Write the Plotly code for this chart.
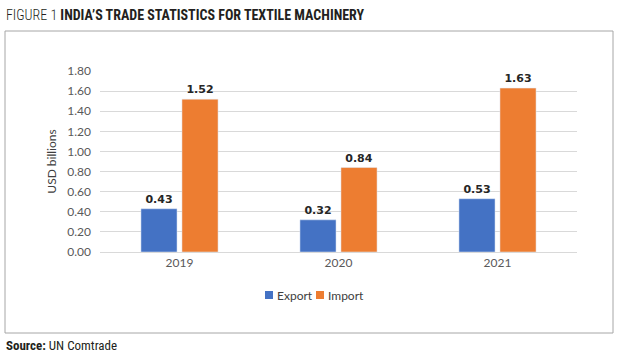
import plotly.graph_objects as go

years = ["2019", "2020", "2021"]
series_names = ["Export", "Import"]
export_vals = [0.43, 0.32, 0.53]
import_vals = [1.52, 0.84, 1.63]
y_ticks = [0.0, 0.2, 0.4, 0.6, 0.8, 1.0, 1.2, 1.4, 1.6, 1.8]
colors = ["#4472C4", "#ED7D31"]

W, H = 617, 355
L, R, T, B = 100, 40, 71, 103
pw = W - L - R
ph = H - T - B

def px_x(x):
    return (x - L) / pw

def px_y(y):
    return (H - B - y) / ph

tick_font = dict(family="Lato, 'DejaVu Sans', sans-serif", size=12, color="#595959")
label_font = dict(family="'DejaVu Sans', sans-serif", size=11, color="#262626")
cond = "'Liberation Sans Narrow', 'Roboto Condensed', 'DejaVu Sans Condensed', sans-serif"

fig = go.Figure()
for name, vals, col in zip(series_names, [export_vals, import_vals], colors):
    fig.add_trace(go.Bar(
        name=name, x=years, y=vals, marker_color=col,
        text=[f"<b>{v:.2f}</b>" for v in vals], textposition="outside",
        textfont=label_font, cliponaxis=False, showlegend=False,
    ))

fig.update_layout(
    width=W, height=H,
    margin=dict(l=L, r=R, t=T, b=B),
    paper_bgcolor="white", plot_bgcolor="white",
    barmode="group", bargap=0.484, bargroupgap=0.12,
    xaxis=dict(tickfont=tick_font, showline=True, linecolor="#D9D9D9", ticks="",
               showgrid=False),
    yaxis=dict(range=[0, 1.8], tickvals=y_ticks, ticktext=[f"{v:.2f}" for v in y_ticks],
               tickfont=tick_font, showgrid=True, gridcolor="#D9D9D9", zeroline=False,
               ticks="", ticklabelstandoff=8,
               title=dict(text="USD billions", font=dict(family="Lato, 'DejaVu Sans', sans-serif", size=12, color="#404040"), standoff=8)),
    uniformtext=dict(minsize=8, mode="show"),
)

# outer frame
fig.add_shape(type="rect", xref="paper", yref="paper",
              x0=px_x(5), x1=px_x(613), y0=px_y(333), y1=px_y(31),
              line=dict(color="#A6A6A6", width=1), fillcolor="rgba(0,0,0,0)", layer="below")

# legend (compact, like the reference)
legend_items = [(series_names[0], colors[0], 265), (series_names[1], colors[1], 316)]
for name, col, x0 in legend_items:
    fig.add_shape(type="rect", xref="paper", yref="paper",
                  x0=px_x(x0), x1=px_x(x0 + 8), y0=px_y(299), y1=px_y(291),
                  line=dict(width=0), fillcolor=col)
    fig.add_annotation(xref="paper", yref="paper", x=px_x(x0 + 10), y=px_y(295),
                       xanchor="left", yanchor="middle", showarrow=False, text=name,
                       font=dict(family="Lato, 'DejaVu Sans', sans-serif", size=12, color="#404040"))

fig.add_annotation(xref="paper", yref="paper", x=px_x(4), y=px_y(15), xanchor="left", yanchor="middle",
                   showarrow=False,
                   text="<span style='font-weight:300'>FIGURE 1 </span><b>INDIA’S TRADE STATISTICS FOR TEXTILE MACHINERY</b>",
                   font=dict(family=cond, size=14, color="#231F20"))
fig.add_annotation(xref="paper", yref="paper", x=px_x(4), y=px_y(345), xanchor="left", yanchor="middle",
                   showarrow=False,
                   text="<b>Source:</b> UN Comtrade",
                   font=dict(family=cond, size=13, color="#231F20"))

fig.write_html("out.html", config={"displayModeBar": False},
               post_script="document.body.style.margin='0';document.body.style.overflow='hidden';")
